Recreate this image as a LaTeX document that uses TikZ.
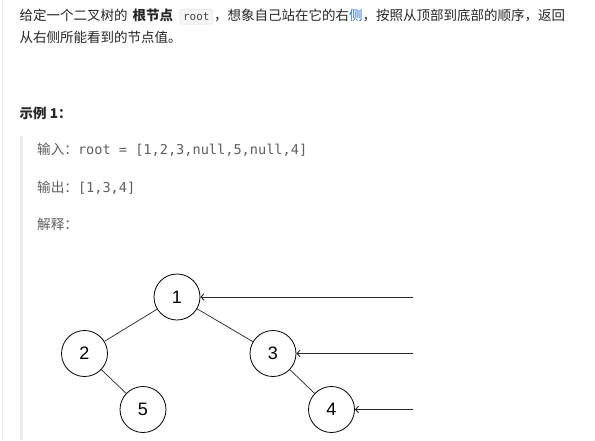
\documentclass[tikz,border=0pt]{standalone}
\usepackage{fontspec}
\setmainfont{Noto Sans CJK SC}
\newfontfamily\codefont{DejaVu Sans Mono}
\newfontfamily\numfont{Liberation Sans}
\usetikzlibrary{arrows.meta}
\definecolor{maintext}{HTML}{262626}
\definecolor{quotetext}{HTML}{5F5F5F}
\definecolor{linkblue}{HTML}{2F6FD0}
\definecolor{codebg}{HTML}{F5F5F5}
\definecolor{codeborder}{HTML}{E3E3E3}
\definecolor{barcolor}{HTML}{EBEBEB}
\begin{document}
\begin{tikzpicture}[x=1pt,y=-1pt,
  para/.style={anchor=base west, inner sep=0pt, text=maintext, font=\fontsize{13.5}{16}\selectfont},
  quoteline/.style={anchor=base west, inner sep=0pt, text=quotetext, font=\fontsize{13.6}{16}\selectfont},
  codebox/.style={anchor=base west, fill=codebg, draw=codeborder, line width=0.6pt, rounded corners=2.5pt,
    inner xsep=3.3pt, inner ysep=3.5pt, text=maintext!85, font=\codefont\fontsize{11}{12}\selectfont},
  treenode/.style={circle, draw=black, line width=0.8pt, minimum size=46pt, inner sep=0pt,
    font=\numfont\fontsize{18}{18}\selectfont},
  treeedge/.style={line width=0.7pt, draw=black!85},
  lookarrow/.style={line width=0.9pt, draw=black!85, -{Straight Barb[length=3pt,width=6.5pt]}}
]
\useasboundingbox (0,0) rectangle (595,440);
\fill[white] (0,0) rectangle (595,440);
% panel edge and quote bar
\fill[barcolor] (1.5,0) rectangle (3,440);
\fill[barcolor] (19.5,136) rectangle (22.5,440);

% paragraph
\node[para] (p1a) at (19.5,20.5) {给定一个二叉树的};
\node[para] (p1b) at (132.5,20.5) {\bfseries 根节点};
\node[codebox] (p1code) at (179.5,20.5) {root};
\node[para] (p1c) at (214,20.5) {，想象自己站在它的右\textcolor{linkblue}{侧}，按照从顶部到底部的顺序，返回};
\node[para] (p2) at (19.5,42) {从右侧所能看到的节点值。};

\node[para] (ex) at (19.5,118) {\bfseries 示例 1：};

\node[quoteline] (inp) at (37,154) {输入：{\codefont root = [1,2,3,null,5,null,4]}};
\node[quoteline] (outp) at (37,192) {输出：{\codefont [1,3,4]}};
\node[quoteline] (expl) at (37,229) {解释：};

% tree
\node[treenode] (n1) at (177,297) {1};
\node[treenode] (n2) at (84.5,353.5) {2};
\node[treenode] (n3) at (273,353.5) {3};
\node[treenode] (n5) at (143,409.5) {5};
\node[treenode] (n4) at (331.5,409.5) {4};
\draw[treeedge] (n1) -- (n2);
\draw[treeedge] (n1) -- (n3);
\draw[treeedge] (n2) -- (n5);
\draw[treeedge] (n3) -- (n4);

\coordinate (s1) at (413,297);
\coordinate (s3) at (413,353.5);
\coordinate (s4) at (413,409.5);
\draw[lookarrow] (s1) -- (n1.east);
\draw[lookarrow] (s3) -- (n3.east);
\draw[lookarrow] (s4) -- (n4.east);
\end{tikzpicture}
\end{document}
